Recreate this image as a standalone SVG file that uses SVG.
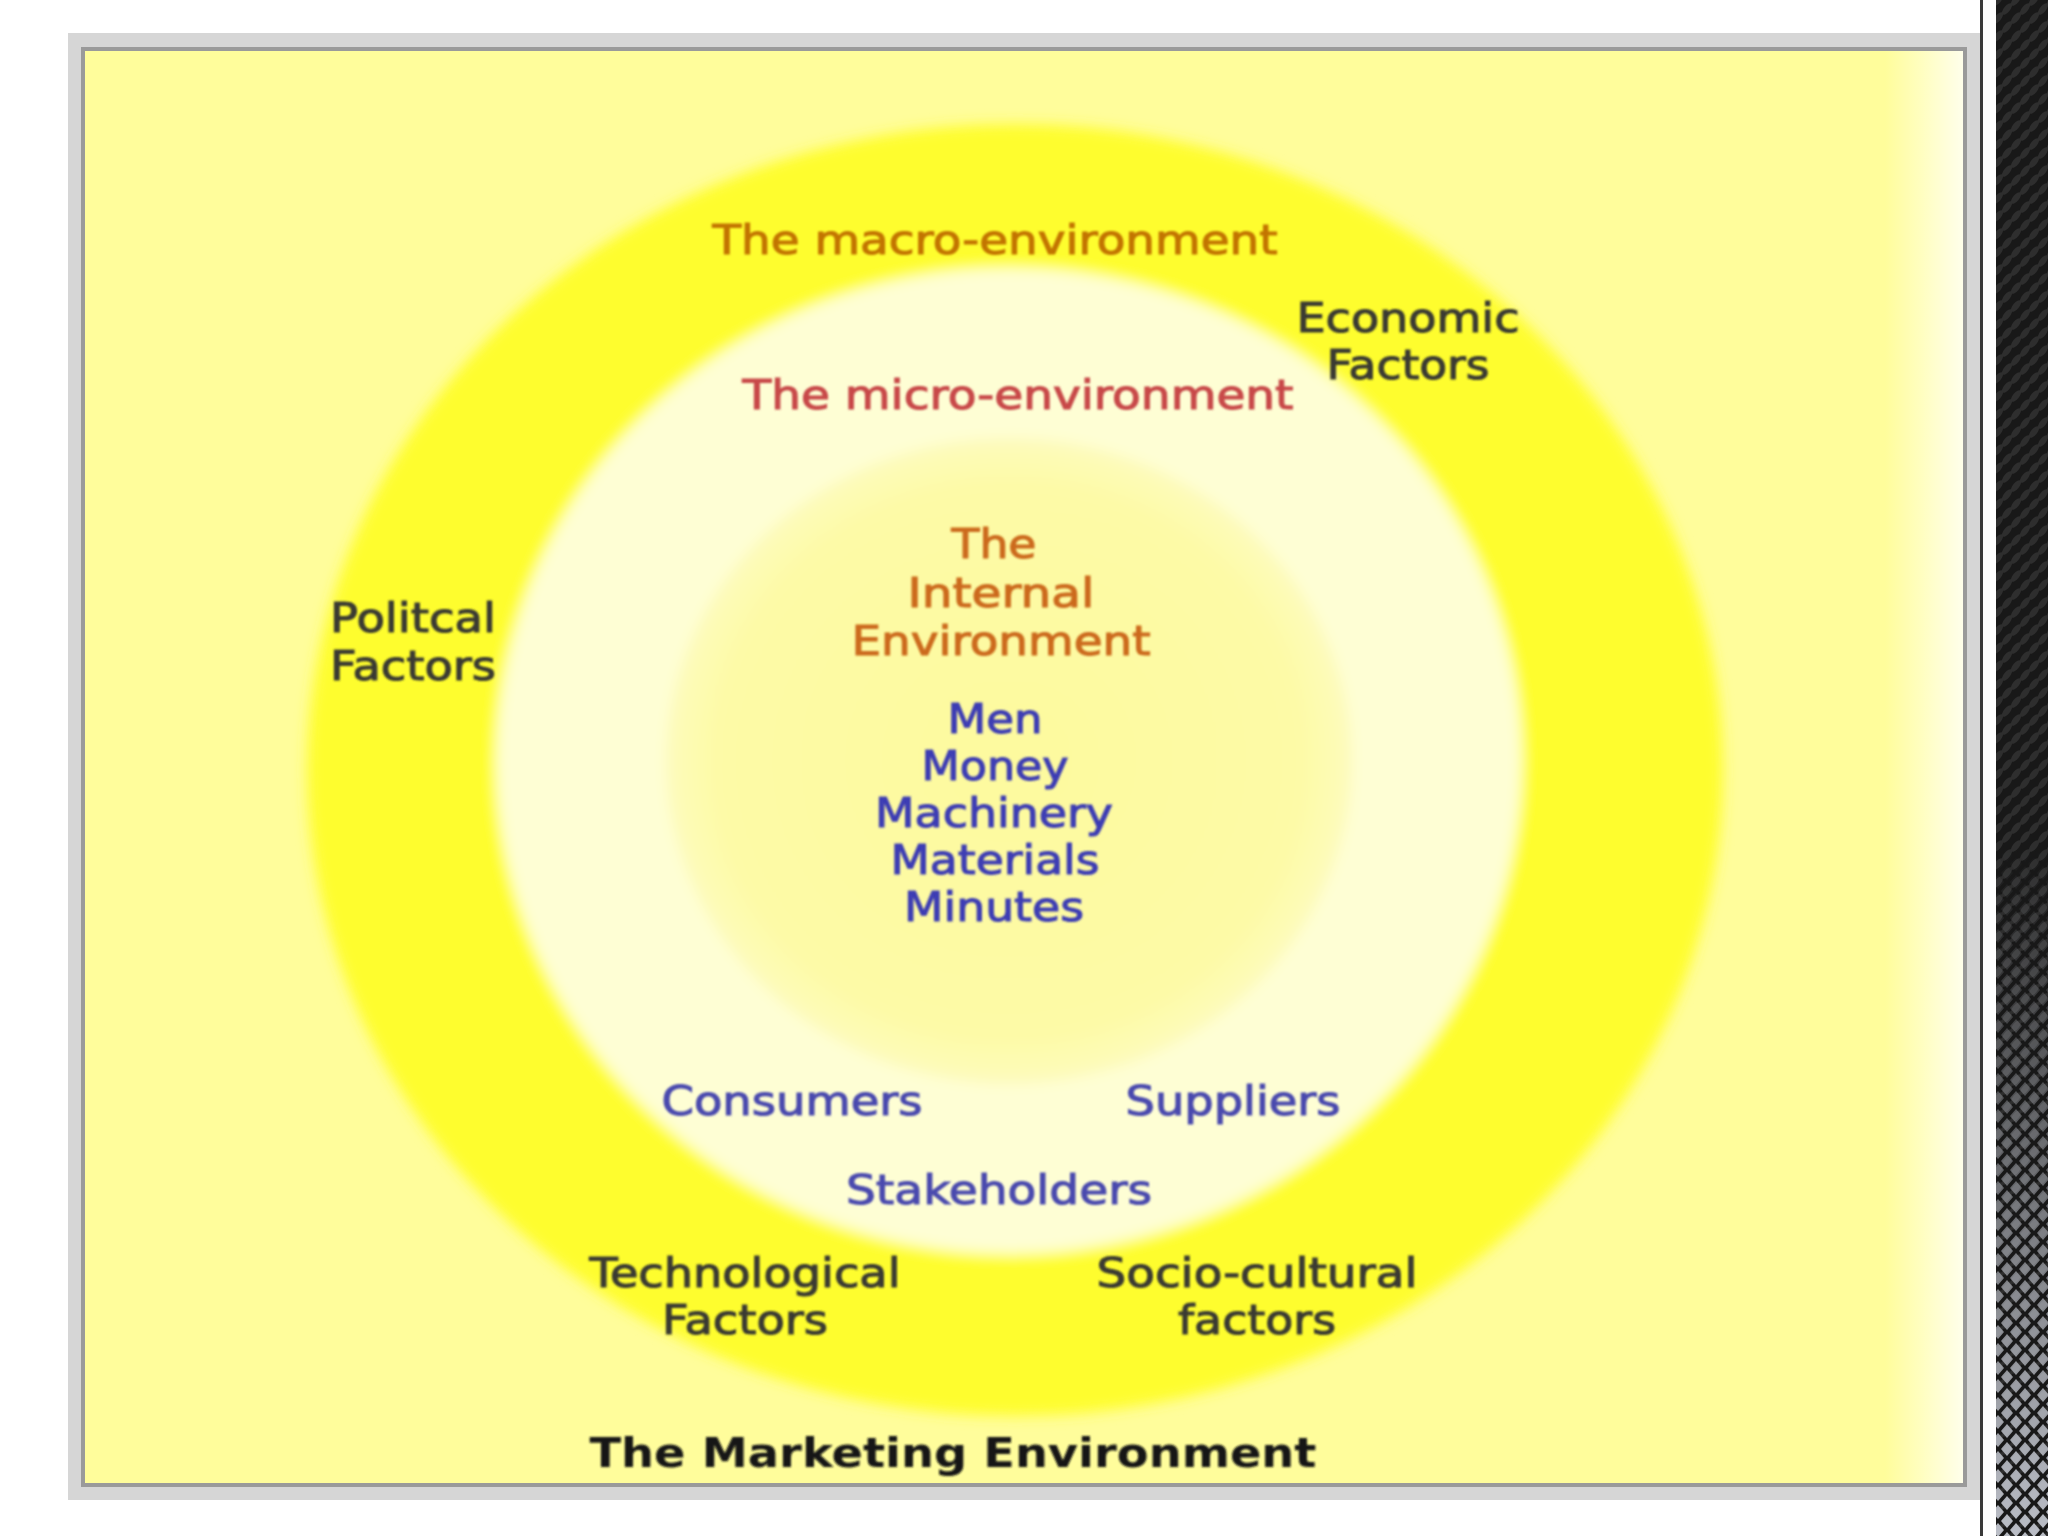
<svg xmlns="http://www.w3.org/2000/svg" width="2048" height="1536" viewBox="0 0 2048 1536">
  <defs>
    <style>
      .lbl { font-family: "DejaVu Sans", Verdana, sans-serif; font-size: 40px; text-anchor: middle; stroke-width: 1.1px; }
      .fac { fill: #3a3a32; stroke: #3a3a32; }
      .blue { fill: #3c3cb4; stroke: #3c3cb4; }
      .blue2 { fill: #4a4aae; stroke: #4a4aae; }
      .macro { fill: #c27400; stroke: #c27400; }
      .micro { fill: #c84848; stroke: #c84848; }
      .internal { fill: #cc6a1c; stroke: #cc6a1c; }
      .title { font-family: "DejaVu Sans", Verdana, sans-serif; font-size: 40px; font-weight: bold; fill: #141414; text-anchor: middle; }
    </style>
    <filter id="soft" x="-10%" y="-10%" width="120%" height="120%">
      <feGaussianBlur stdDeviation="7"/>
    </filter>
    <filter id="txtsoft" x="-5%" y="-20%" width="110%" height="140%">
      <feGaussianBlur stdDeviation="0.9"/>
    </filter>
    <linearGradient id="fadeR" x1="0" y1="0" x2="1" y2="0">
      <stop offset="0" stop-color="#ffffff" stop-opacity="0"/>
      <stop offset="1" stop-color="#ffffff" stop-opacity="0.8"/>
    </linearGradient>
    <radialGradient id="innerG" cx="0.5" cy="0.5" r="0.5">
      <stop offset="0" stop-color="#fdfa9e"/>
      <stop offset="0.85" stop-color="#fdfaa6"/>
      <stop offset="1" stop-color="#fdfbbc"/>
    </radialGradient>
    <pattern id="carbon" x="0" y="0" width="18" height="18" patternUnits="userSpaceOnUse">
      <rect width="18" height="18" fill="#181818"/>
      <ellipse cx="9" cy="9" rx="3" ry="7" fill="#2e2e2e" transform="rotate(40 9 9)"/>
      <ellipse cx="0" cy="0" rx="3" ry="7" fill="#2e2e2e" transform="rotate(40 0 0)"/>
      <ellipse cx="18" cy="18" rx="3" ry="7" fill="#2e2e2e" transform="rotate(40 18 18)"/>
      <ellipse cx="18" cy="0" rx="3" ry="7" fill="#2e2e2e" transform="rotate(40 18 0)"/>
      <ellipse cx="0" cy="18" rx="3" ry="7" fill="#2e2e2e" transform="rotate(40 0 18)"/>
    </pattern>
    <pattern id="mesh" x="0" y="0" width="18" height="18" patternUnits="userSpaceOnUse">
      <polygon points="9,2 15,9 9,16 3,9" fill="#d4d8e2"/>
      <polygon points="0,-7 6,0 0,7 -6,0" fill="#d4d8e2"/>
      <polygon points="18,-7 24,0 18,7 12,0" fill="#d4d8e2"/>
      <polygon points="0,11 6,18 0,25 -6,18" fill="#d4d8e2"/>
      <polygon points="18,11 24,18 18,25 12,18" fill="#d4d8e2"/>
    </pattern>
    <linearGradient id="meshFade" x1="0" y1="0" x2="0" y2="1">
      <stop offset="0" stop-color="#ffffff" stop-opacity="0"/>
      <stop offset="0.55" stop-color="#ffffff" stop-opacity="0"/>
      <stop offset="1" stop-color="#ffffff" stop-opacity="0.85"/>
    </linearGradient>
    <mask id="meshMask" maskUnits="userSpaceOnUse" x="1996" y="0" width="52" height="1536">
      <rect x="1996" y="0" width="52" height="1536" fill="url(#meshFade)"/>
    </mask>
  </defs>

  <!-- page background -->
  <rect x="0" y="0" width="2048" height="1536" fill="#ffffff"/>

  <!-- right textured strip -->
  <g id="side-strip">
    <rect x="1996" y="0" width="52" height="1536" fill="url(#carbon)"/>
    <rect x="1996" y="0" width="52" height="1536" fill="url(#mesh)" mask="url(#meshMask)"/>
    <rect x="1980" y="0" width="3" height="1536" fill="#3a3a3a"/>
  </g>

  <!-- frame shadow / border -->
  <g id="frame">
    <rect x="68" y="33" width="1912" height="1467" fill="#d6d6d6"/>
    <rect x="81" y="47" width="1886" height="1440" fill="#9a9a9a"/>
    <rect x="85" y="51" width="1878" height="1432" fill="#fffd9b"/>
  </g>

  <!-- rings -->
  <g id="rings" filter="url(#soft)">
    <ellipse id="macro-ring" cx="1015" cy="770" rx="708" ry="646" fill="#fefd2e"/>
    <ellipse id="micro-ring" cx="1009" cy="761" rx="513" ry="493" fill="#fefed4"/>
    <ellipse id="internal-ring" cx="1009" cy="761" rx="343" ry="323" fill="url(#innerG)"/>
  </g>

  <rect x="1885" y="51" width="78" height="1432" fill="url(#fadeR)"/>

  <g id="connectors"/>

  <g filter="url(#txtsoft)">
    <g id="macro-environment">
      <text class="lbl macro" x="995" y="254" textLength="565" lengthAdjust="spacingAndGlyphs">The macro-environment</text>
    </g>
    <g id="micro-environment">
      <text class="lbl micro" x="1018" y="409" textLength="551" lengthAdjust="spacingAndGlyphs">The micro-environment</text>
    </g>
    <g id="economic-factors">
      <text class="lbl fac" x="1408" y="332" textLength="223" lengthAdjust="spacingAndGlyphs">Economic</text>
      <text class="lbl fac" x="1408" y="379" textLength="163" lengthAdjust="spacingAndGlyphs">Factors</text>
    </g>
    <g id="political-factors">
      <text class="lbl fac" x="413" y="632" textLength="166" lengthAdjust="spacingAndGlyphs">Politcal</text>
      <text class="lbl fac" x="413" y="680" textLength="166" lengthAdjust="spacingAndGlyphs">Factors</text>
    </g>
    <g id="internal-environment">
      <text class="lbl internal" x="994" y="558" textLength="85" lengthAdjust="spacingAndGlyphs">The</text>
      <text class="lbl internal" x="1001" y="607" textLength="187" lengthAdjust="spacingAndGlyphs">Internal</text>
      <text class="lbl internal" x="1001" y="655" textLength="299" lengthAdjust="spacingAndGlyphs">Environment</text>
    </g>
    <g id="internal-resources">
      <text class="lbl blue" x="995" y="733" textLength="95" lengthAdjust="spacingAndGlyphs">Men</text>
      <text class="lbl blue" x="995" y="780" textLength="147" lengthAdjust="spacingAndGlyphs">Money</text>
      <text class="lbl blue" x="994" y="827" textLength="238" lengthAdjust="spacingAndGlyphs">Machinery</text>
      <text class="lbl blue" x="995" y="874" textLength="209" lengthAdjust="spacingAndGlyphs">Materials</text>
      <text class="lbl blue" x="994" y="921" textLength="180" lengthAdjust="spacingAndGlyphs">Minutes</text>
    </g>
    <g id="consumers">
      <text class="lbl blue2" x="792" y="1115" textLength="261" lengthAdjust="spacingAndGlyphs">Consumers</text>
    </g>
    <g id="suppliers">
      <text class="lbl blue2" x="1233" y="1115" textLength="215" lengthAdjust="spacingAndGlyphs">Suppliers</text>
    </g>
    <g id="stakeholders">
      <text class="lbl blue2" x="999" y="1204" textLength="306" lengthAdjust="spacingAndGlyphs">Stakeholders</text>
    </g>
    <g id="technological-factors">
      <text class="lbl fac" x="745" y="1287" textLength="311" lengthAdjust="spacingAndGlyphs">Technological</text>
      <text class="lbl fac" x="745" y="1334" textLength="166" lengthAdjust="spacingAndGlyphs">Factors</text>
    </g>
    <g id="socio-cultural-factors">
      <text class="lbl fac" x="1257" y="1287" textLength="321" lengthAdjust="spacingAndGlyphs">Socio-cultural</text>
      <text class="lbl fac" x="1257" y="1334" textLength="158" lengthAdjust="spacingAndGlyphs">factors</text>
    </g>
    <g id="title">
      <text class="title" x="953" y="1467" textLength="727" lengthAdjust="spacingAndGlyphs">The Marketing Environment</text>
    </g>
  </g>
</svg>
